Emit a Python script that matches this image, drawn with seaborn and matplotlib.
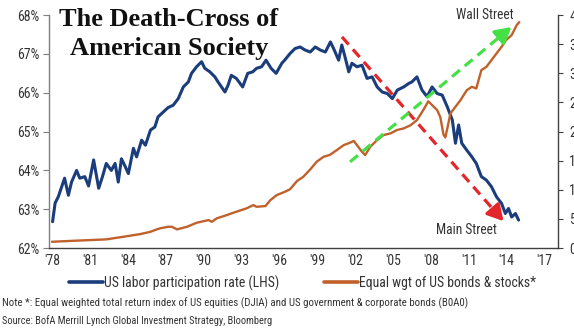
import matplotlib
matplotlib.use("Agg")
import matplotlib.pyplot as plt
import seaborn as sns
import pandas as pd
from matplotlib import font_manager
from matplotlib.lines import Line2D

# ---------------- data ----------------
lfpr_years = [1978.05, 1978.25, 1978.5, 1979.0, 1979.3, 1979.55, 1979.95, 1980.2, 1980.6, 1980.9,
              1981.3, 1981.7, 1982.0, 1982.3, 1982.7, 1983.0, 1983.25, 1983.5, 1983.8, 1984.05,
              1984.45, 1984.7, 1985.1, 1985.4, 1985.8, 1986.15, 1986.4, 1986.8, 1987.2, 1987.6,
              1988.0, 1988.4, 1988.8, 1989.05, 1989.45, 1989.85, 1990.1, 1990.5, 1990.9, 1991.15,
              1991.7, 1991.95, 1992.2, 1992.6, 1993.1, 1993.5, 1993.9, 1994.2, 1994.6, 1994.95,
              1995.35, 1995.75, 1996.2, 1996.45, 1996.85, 1997.25, 1997.65, 1998.05, 1998.45, 1998.85,
              1999.25, 1999.65, 2000.05, 2000.3, 2000.7, 2000.95, 2001.2, 2001.5, 2001.75, 2002.15,
              2002.55, 2002.95, 2003.35, 2003.75, 2004.15, 2004.55, 2004.95, 2005.35, 2005.85, 2006.25,
              2006.5, 2006.9, 2007.3, 2007.7, 2008.1, 2008.5, 2008.9, 2009.3, 2009.7, 2009.95,
              2010.2, 2010.45, 2010.85, 2011.25, 2011.6, 2012.0, 2012.4, 2012.8, 2013.2, 2013.6,
              2013.9, 2014.15, 2014.4, 2014.7, 2014.95]
lfpr_values = [62.68, 63.16, 63.32, 63.80, 63.36, 63.70, 64.00, 63.80, 63.84, 63.60,
               64.27, 63.54, 63.84, 64.18, 64.00, 64.18, 63.70, 64.30, 64.10, 63.92,
               64.57, 64.35, 64.78, 64.65, 65.04, 65.12, 65.38, 65.50, 65.62, 65.68,
               65.85, 66.15, 66.28, 66.50, 66.67, 66.80, 66.63, 66.54, 66.41, 66.28,
               66.02, 66.20, 66.45, 66.37, 66.15, 66.50, 66.54, 66.63, 66.67, 66.84,
               66.63, 66.50, 66.76, 66.85, 67.01, 67.14, 67.18, 67.10, 67.05, 67.18,
               67.10, 67.05, 67.31, 67.14, 66.84, 67.23, 66.93, 66.54, 66.76, 66.67,
               66.71, 66.37, 66.41, 66.15, 66.02, 65.98, 65.85, 66.07, 66.15, 66.24,
               66.28, 66.41, 66.07, 65.90, 66.15, 65.98, 65.94, 65.64, 65.30, 64.70,
               65.17, 64.70, 64.52, 64.35, 64.18, 63.84, 63.75, 63.58, 63.32, 63.15,
               62.89, 63.02, 62.80, 62.89, 62.72]

index_years = [1978.0, 1979.7, 1982.3, 1983.65, 1985.0, 1985.8, 1986.3, 1986.55, 1987.2, 1987.5,
               1987.9, 1988.7, 1989.45, 1990.4, 1990.65, 1991.05, 1991.85, 1992.6, 1993.4, 1993.95,
               1994.2, 1994.9, 1995.3, 1995.8, 1996.45, 1996.85, 1997.4, 1997.9, 1998.45, 1998.95,
               1999.5, 2000.0, 2000.55, 2001.1, 2001.5, 2001.9, 2002.15, 2002.55, 2002.8, 2003.2,
               2003.75, 2004.25, 2004.8, 2005.3, 2005.85, 2006.4, 2006.9, 2007.4, 2007.8, 2008.1,
               2008.5, 2008.75, 2009.0, 2009.15, 2009.35, 2009.55, 2009.95, 2010.35, 2010.85, 2011.25,
               2011.6, 2012.0, 2012.4, 2012.8, 2013.2, 2013.6, 2013.95, 2014.4, 2014.8, 2015.0]
index_values = [108, 125, 149, 194, 240, 280, 321, 338, 366, 366,
                321, 366, 434, 481, 451, 510, 567, 624, 681, 738,
                709, 721, 824, 910, 967, 1010, 1150, 1224, 1350, 1480,
                1567, 1600, 1682, 1768, 1800, 1840, 1768, 1653, 1597, 1739,
                1854, 1940, 1969, 2026, 2055, 2110, 2197, 2369, 2520, 2455,
                2369, 2250, 1950, 1900, 2100, 2312, 2426, 2541, 2712, 2769,
                2741, 3056, 3112, 3227, 3342, 3456, 3571, 3657, 3828, 3880]

tick_years = [1978, 1981, 1984, 1987, 1990, 1993, 1996, 1999, 2002, 2005, 2008, 2011, 2014, 2017]
tick_labels = ["'78", "'81", "'84", "'87", "'90", "'93", "'96", "'99", "'02", "'05", "'08", "'11", "'14", "'17"]
left_ticks = [62, 63, 64, 65, 66, 67, 68]
right_ticks = [0, 500, 1000, 1500, 2000, 2500, 3000, 3500, 4000]

series_labels = ["US labor participation rate (LHS)", "Equal wgt of US bonds & stocks*"]
title_text = "The Death-Cross of\nAmerican Society"
note_text = "Note *: Equal weighted total return index of US equities (DJIA) and US government & corporate bonds (B0A0)"
source_text = "Source: BofA Merrill Lynch Global Investment Strategy, Bloomberg"

# annotation arrows (year, LHS value)
red_arrow = ((2000.96, 67.44), (2013.9, 62.64))
green_arrow = ((2001.6, 64.22), (2014.55, 67.74))

BLUE = "#1b3d7c"
ORANGE = "#c0612b"
RED = "#e3262b"
GREEN = "#45e045"
TXT = "#333333"

# ---------------- style ----------------
sns.set_theme(style="white")
names = {f.name for f in font_manager.fontManager.ttflist}
fam, k = "Liberation Sans", 0.84
for cand, kk in (("Liberation Sans Narrow", 1.0), ("Arial Narrow", 1.0), ("Roboto Condensed", 0.9)):
    if cand in names:
        fam, k = cand, kk
        break
plt.rcParams["font.family"] = [fam, "DejaVu Sans"]

fig = plt.figure(figsize=(5.74, 3.29), dpi=100)
ax = fig.add_axes([0.0848, 0.246, 0.888, 0.708])
ax2 = ax.twinx()

df_l = pd.DataFrame({"year": lfpr_years, "value": lfpr_values})
df_r = pd.DataFrame({"year": index_years, "value": index_values})
sns.lineplot(data=df_l, x="year", y="value", ax=ax, color=BLUE, lw=2.2, estimator=None, legend=False)
sns.lineplot(data=df_r, x="year", y="value", ax=ax2, color=ORANGE, lw=1.7, estimator=None, legend=False)

ax.set_xlim(1977.74, 2018.1)
ax.set_ylim(62, 68)
ax2.set_ylim(0, 4000)
ax.set_xlabel("")
ax.set_ylabel("")
ax2.set_ylabel("")

ax.set_xticks(tick_years)
ax.set_xticklabels(tick_labels)
ax.set_yticks(left_ticks)
ax.set_yticklabels([f"{v}%" for v in left_ticks])
ax2.set_yticks(right_ticks)
ax2.set_yticklabels([str(v) for v in right_ticks])

for a in (ax, ax2):
    a.spines["top"].set_visible(False)
    a.grid(False)
ax.spines["right"].set_visible(False)
ax2.spines["left"].set_visible(False)
ax2.spines["bottom"].set_visible(False)
ax.spines["left"].set_color("#7f7f7f")
ax.spines["bottom"].set_color("#404040")
ax2.spines["right"].set_color("#404040")
for s in ("left", "bottom"):
    ax.spines[s].set_linewidth(1.0)
ax2.spines["right"].set_linewidth(1.0)

ax.tick_params(axis="x", bottom=False, length=0, pad=4, labelsize=11 * k, labelcolor=TXT)
ax.tick_params(axis="y", left=True, length=4.3, width=0.8, color="#7f7f7f", pad=2.5,
               labelsize=11 * k, labelcolor=TXT)
ax2.tick_params(axis="y", right=True, length=3.6, width=0.8, color="#404040", pad=4.3,
                labelsize=11 * k, labelcolor=TXT)

# arrows
for (start, end), col in ((red_arrow, RED), (green_arrow, GREEN)):
    ax2.plot([start[0], end[0] - (end[0] - start[0]) * 0.05],
             [(start[1] - 62) / 6 * 4000, (end[1] - 62) / 6 * 4000 - ((end[1] - start[1]) / 6 * 4000) * 0.05],
             color=col, lw=2.3, ls=(0, (3.2, 2.0)), zorder=5)
    ax2.annotate("", xy=end, xytext=(end[0] - (end[0] - start[0]) * 0.08,
                                     end[1] - (end[1] - start[1]) * 0.08),
                 xycoords=ax.transData, textcoords=ax.transData,
                 arrowprops=dict(arrowstyle="-|>,head_length=0.8,head_width=0.45", color=col, lw=2.3),
                 zorder=6)

# texts
fig.text(0.2944, 0.897, title_text, ha="center", va="center", fontsize=19,
         family=["Liberation Serif", "DejaVu Serif"], weight="bold", color="#111111",
         linespacing=1.3)
fig.text(0.845, 0.954, "Wall Street", ha="center", va="center", fontsize=10.8 * k, color=TXT)
fig.text(0.812, 0.301, "Main Street", ha="center", va="center", fontsize=10.8 * k, color=TXT)

handles = [Line2D([], [], color=BLUE, lw=2.6), Line2D([], [], color=ORANGE, lw=2.6)]
fig.legend(handles, series_labels, loc="center", bbox_to_anchor=(0.527, 0.14), ncol=2,
           frameon=False, fontsize=11 * k, handlelength=2.5, handletextpad=0.1,
           columnspacing=3.2, labelcolor=TXT)

fig.text(0.004, 0.079, note_text, ha="left", va="center", fontsize=8.7 * k, color=TXT)
fig.text(0.004, 0.027, source_text, ha="left", va="center", fontsize=8.3 * k, color=TXT)

fig.savefig("out.png", dpi=100)
